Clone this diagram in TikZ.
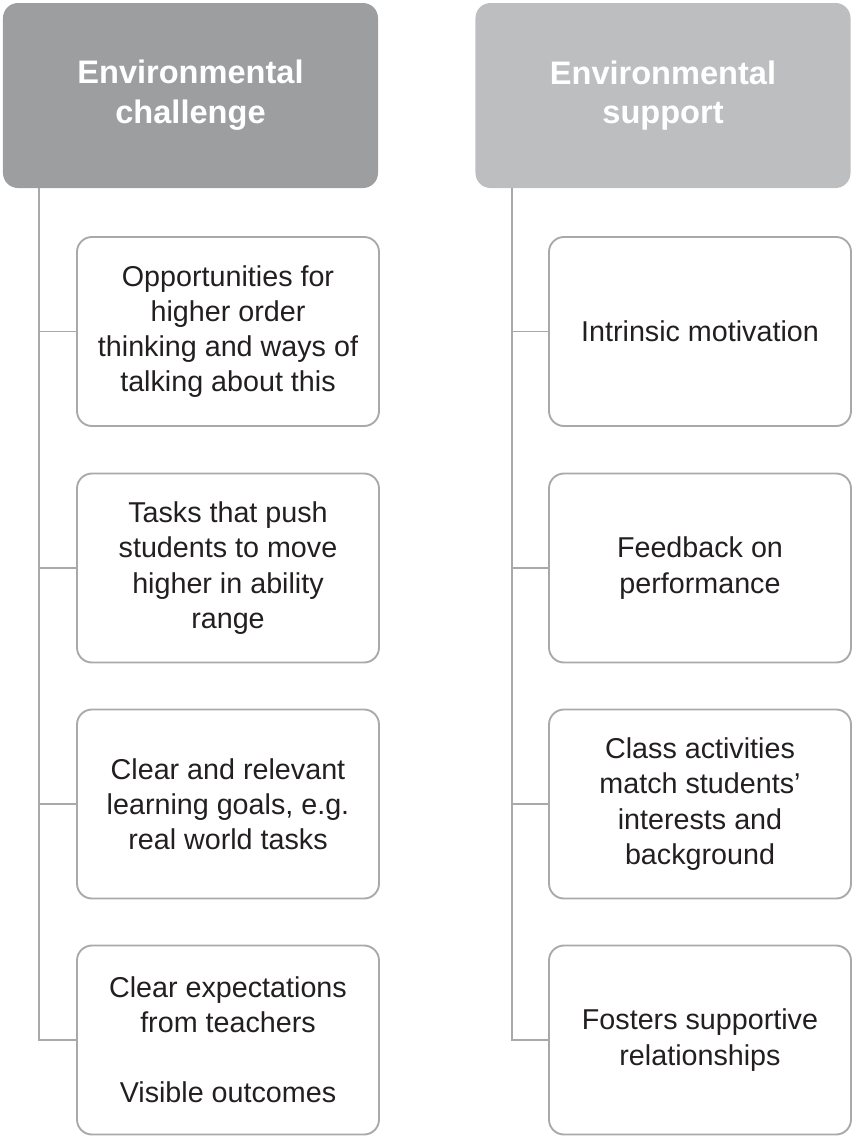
\documentclass[tikz,border=0pt]{standalone}
\usepackage{fontspec}
\setmainfont{Liberation Sans}
\usetikzlibrary{calc}
\definecolor{headdark}{HTML}{9D9EA0}
\definecolor{headlight}{HTML}{BDBEC0}
\definecolor{boxline}{HTML}{A8A9AB}
\definecolor{inktext}{HTML}{231F20}
\tikzset{
  headbox/.style={rounded corners=0.45cm, minimum width=11.25cm, minimum height=5.55cm,
    text=white, align=center, font=\fontsize{27.8}{34}\selectfont\bfseries},
  itembox/.style={draw=boxline, line width=1.6pt, rounded corners=0.45cm, fill=white,
    minimum width=9.06cm, minimum height=5.67cm, align=center,
    text=inktext, font=\fontsize{24.5}{30}\selectfont},
  spine/.style={draw=boxline, line width=1.4pt}
}

\begin{document}
\begin{tikzpicture}[x=0.03cm, y=-0.03cm]
    \useasboundingbox (0,0) rectangle (853,1136);

    % headers
    \node[headbox, fill=headdark] (hc) at (190.5,95.5) {Environmental\\challenge};
    \node[headbox, fill=headlight] (hs) at (663,95.5) {Environmental\\support};

    % challenge column
    \node[itembox] (c1) at (228,331.5) {Opportunities for\\higher order\\thinking and ways of\\talking about this};
    \node[itembox] (c2) at (228,568) {Tasks that push\\students to move\\higher in ability\\range};
    \node[itembox] (c3) at (228,804) {Clear and relevant\\learning goals, e.g.\\real world tasks};
    \node[itembox] (c4) at (228,1040) {Clear expectations\\from teachers\\[30pt]Visible outcomes};

    % support column
    \node[itembox] (s1) at (700,331.5) {Intrinsic motivation};
    \node[itembox] (s2) at (700,568) {Feedback on\\performance};
    \node[itembox] (s3) at (700,804) {Class activities\\match students'\\interests and\\background};
    \node[itembox] (s4) at (700,1040) {Fosters supportive\\relationships};

    \coordinate (ctop) at ($(hc.south west)+(36,0)$);
    \coordinate (stop) at ($(hs.south west)+(37,0)$);

    \draw[spine] (ctop) |- (c4.west);
    \draw[spine] (stop) |- (s4.west);
    \foreach \i in {1,2,3} {
      \draw[spine] (c\i.west) -- (c\i.west -| ctop);
      \draw[spine] (s\i.west) -- (s\i.west -| stop);
    }
\end{tikzpicture}
\end{document}
